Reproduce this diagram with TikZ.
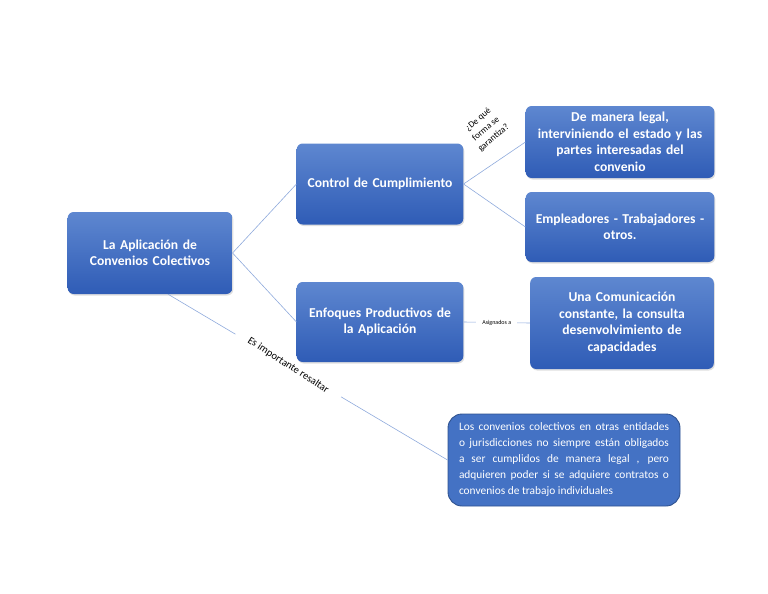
\documentclass[tikz,border=0pt]{standalone}
\usepackage{fontspec}
\setmainfont{Carlito}
\usetikzlibrary{positioning,calc,shadows}
\definecolor{boxtop}{HTML}{5E87D0}
\definecolor{boxbot}{HTML}{2F5CB6}
\definecolor{notefill}{HTML}{4472C4}
\definecolor{noteline}{HTML}{2F528F}
\definecolor{linkblue}{HTML}{8FAADC}
\tikzset{box/.style={rounded corners=6pt,top color=boxtop,bottom color=boxbot,draw=none,text=white,align=center,font=\fontsize{13.6}{16.5}\selectfont\bfseries,drop shadow={opacity=0.25,shadow xshift=1pt,shadow yshift=-1.5pt}}, note/.style={rounded corners=14pt,fill=notefill,draw=noteline,line width=0.9pt,text=white,align=justify,font=\fontsize{11.4}{16}\selectfont,inner sep=0pt}, link/.style={draw=linkblue,line width=0.6pt}, tag/.style={fill=white,text=black,inner sep=1pt}}

\begin{document}
\begin{tikzpicture}[x=1pt,y=-1pt]
\useasboundingbox (0,0) rectangle (768,594);
\node[box,minimum width=164pt,minimum height=82pt,text width=158pt] (root) at (150,253) {La Aplicación de\\Convenios Colectivos};
\node[box,minimum width=163pt,minimum height=81pt,text width=160pt] (ctrl) at (380,184) {Control de Cumplimiento};
\node[box,minimum width=163pt,minimum height=80pt,text width=160pt] (enf) at (380,322) {Enfoques Productivos de\\la Aplicación};
\node[box,minimum width=186pt,minimum height=72pt,text width=182pt] (legal) at (620,142) {De manera legal,\\interviniendo el estado y las\\partes interesadas del\\convenio};
\node[box,minimum width=186pt,minimum height=70pt,text width=182pt] (emp) at (620,227) {Empleadores - Trabajadores -\\otros.};
\node[box,minimum width=181pt,minimum height=92pt,text width=177pt] (com) at (622,323) {Una Comunicación\\constante, la consulta\\desenvolvimiento de\\capacidades};
\node[note,minimum width=232pt,minimum height=92pt,text width=210pt] (nota) at (564,460) {Los convenios colectivos en otras entidades\linebreak o jurisdicciones no siempre están obligados\linebreak a ser cumplidos de manera legal , pero\linebreak adquieren poder si se adquiere contratos o\linebreak convenios de trabajo individuales\hfill\null};
% conectores
\draw[link] (root.east)--(ctrl.west);
\draw[link] (root.east)--(enf.west);
\draw[link] (ctrl.east)--(legal.west);
\draw[link] (ctrl.east)--(emp.west);
\draw[link] (enf.east)--node[tag,inner xsep=6pt,font=\fontsize{6}{7}\selectfont]{Asignados a}(com.west);
\draw[link] ($(root.south)+(18,0)$)--node[tag,pos=0.43,rotate=-33,inner xsep=14pt,font=\fontsize{10.5}{12}\selectfont]{Es importante resaltar}(nota.west);
\node[rotate=40,align=center,font=\fontsize{9}{12}\selectfont,inner sep=1pt] (garant) at (486,129) {¿De qué\\forma se\\garantiza?};
\end{tikzpicture}
\end{document}
